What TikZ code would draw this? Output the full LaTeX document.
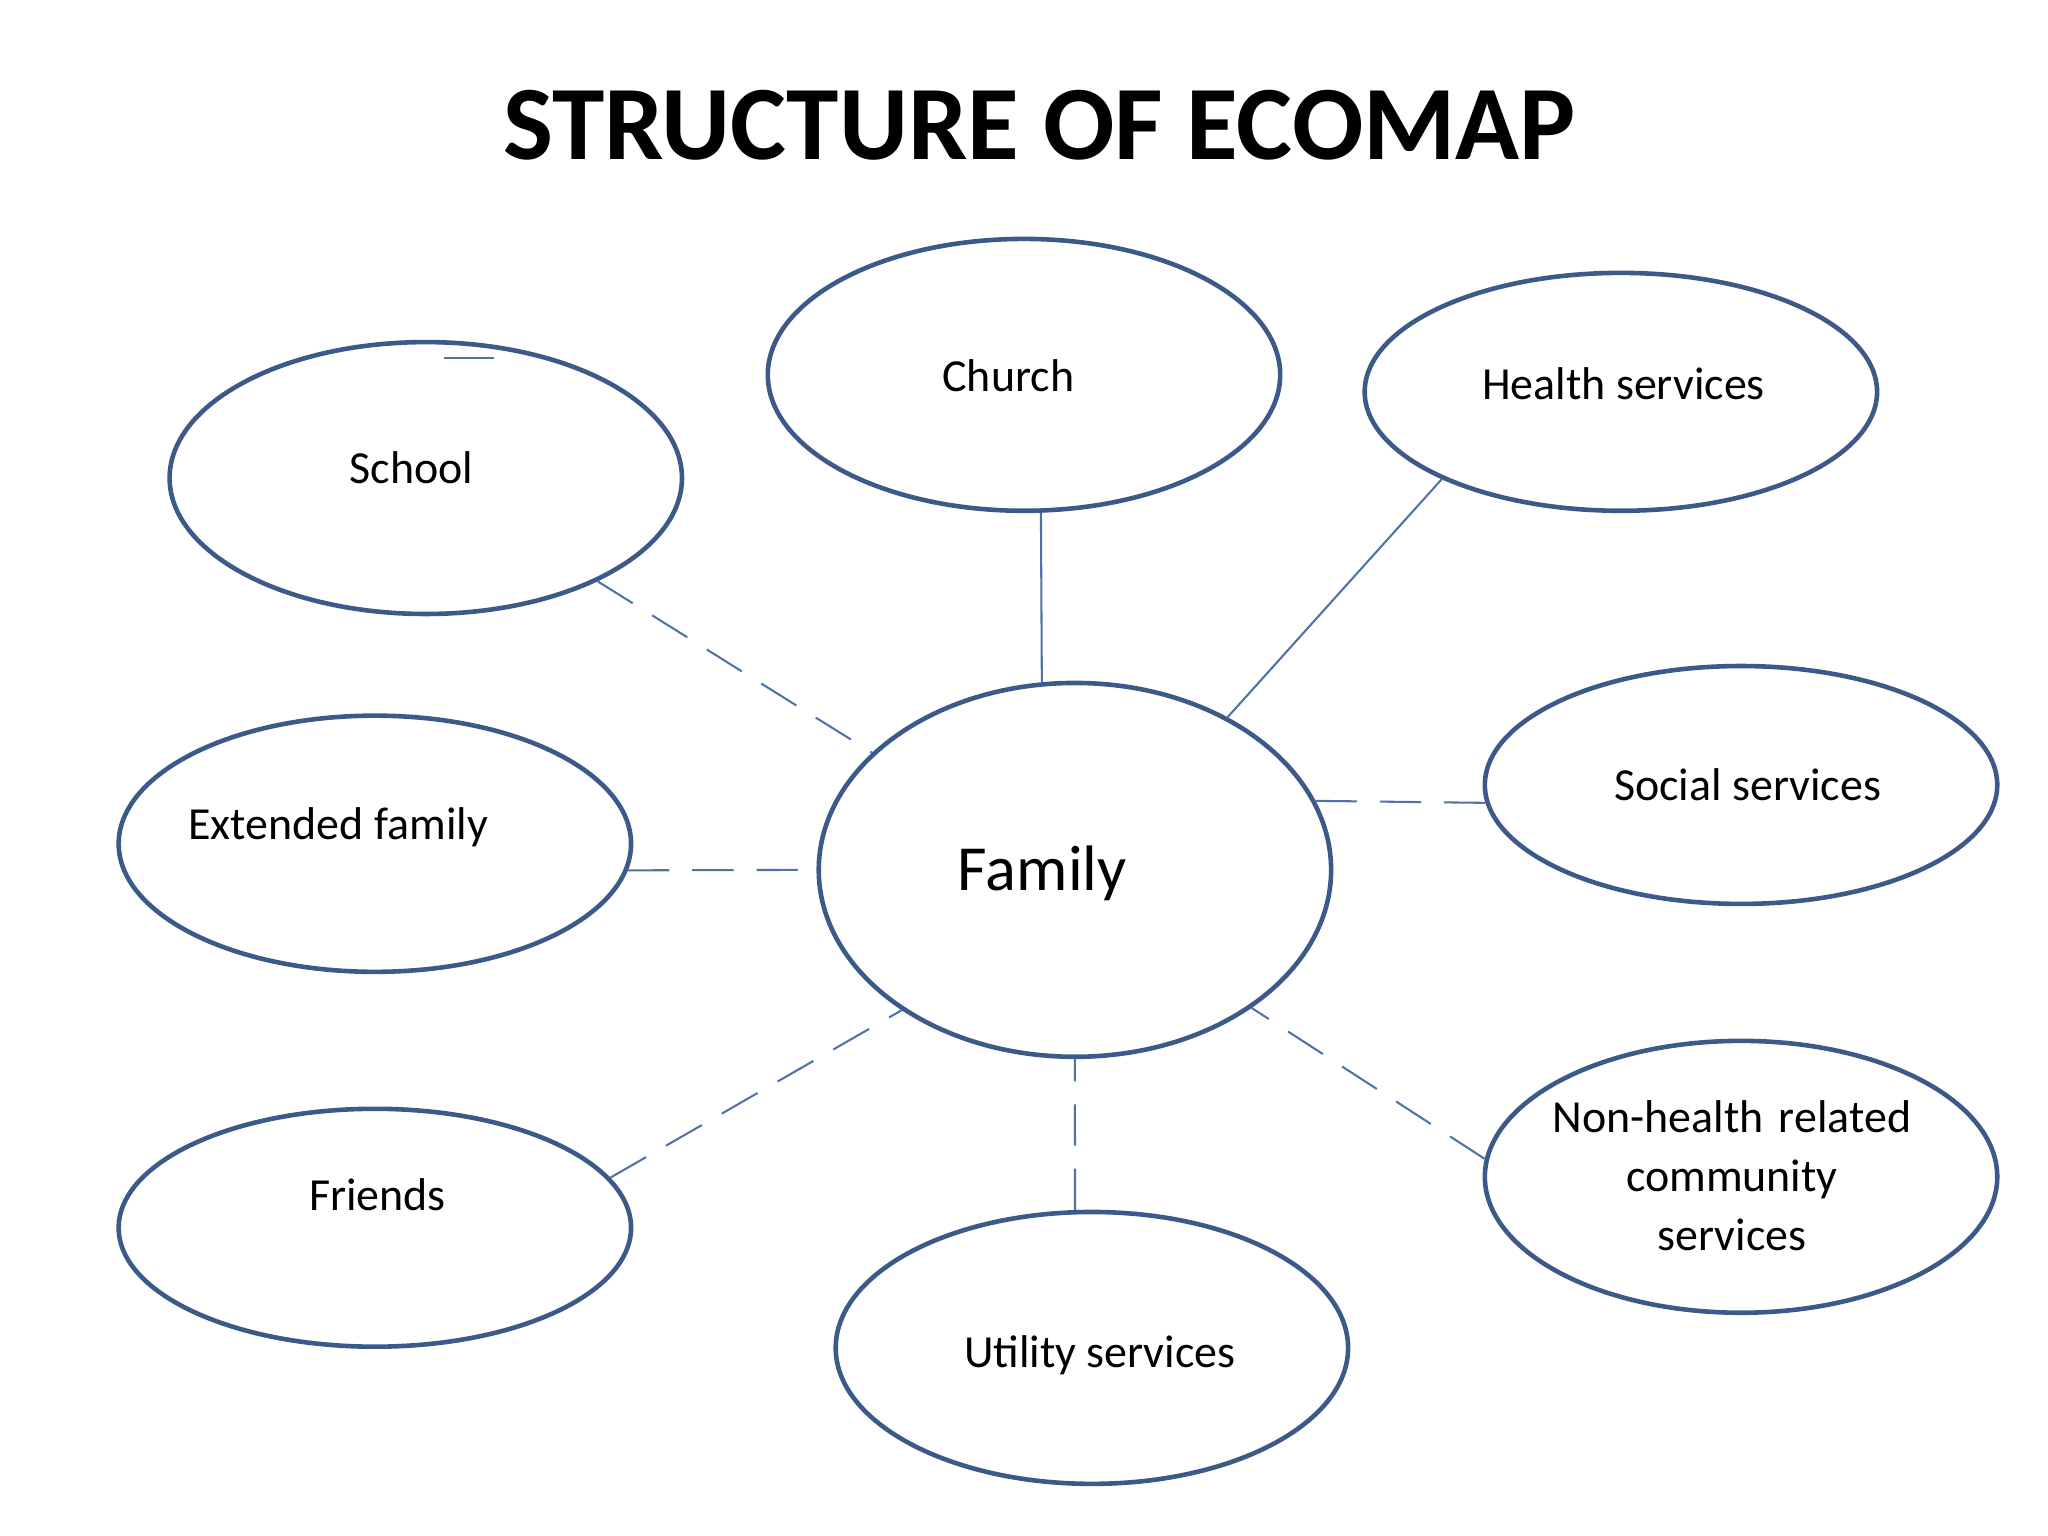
\documentclass[tikz,border=0pt]{standalone}
\usepackage{fontspec}
\setmainfont{Carlito}
\usetikzlibrary{shapes.geometric}
\definecolor{elc}{HTML}{3B5A8A}
\definecolor{lnc}{HTML}{4F72A8}
\begin{document}
\begin{tikzpicture}[x=0.01cm,y=-0.01cm,
  ell/.style n args={2}{ellipse,draw=elc,line width=1pt,inner sep=0pt,minimum width=#1*0.02cm,minimum height=#2*0.02cm},
  lbl/.style={font=\fontsize{10}{12}\selectfont,align=center},
  con/.style={draw=lnc,line width=0.45pt},
  dsh/.style={con,dash pattern=on 9pt off 5pt}]
\useasboundingbox (0,0) rectangle (1568,1176);
\node[font=\fontsize{23}{26}\selectfont\bfseries] (title) at (796,96) {STRUCTURE OF ECOMAP};
\node[ell={196}{104}] (school) at (326,366) {};
\node[ell={196}{104}] (church) at (784,287) {};
\node[ell={196}{91}] (health) at (1241,300) {};
\node[ell={196}{98}] (ext) at (287,646) {};
\node[ell={196}{143}] (fam) at (823,666) {};
\node[ell={196}{91}] (social) at (1333,601) {};
\node[ell={196}{91}] (friends) at (287,940) {};
\node[ell={196}{104}] (util) at (836,1032) {};
\node[ell={196}{104}] (nonh) at (1333,901) {};
\node[lbl] (tschool) at (315,358) {School};
\node[lbl] (tchurch) at (772,288) {Church};
\node[lbl] (thealth) at (1243,294) {Health services};
\node[lbl] (text) at (259,633) {Extended family};
\node[font=\fontsize{14}{16}\selectfont] (tfam) at (798,669) {Family};
\node[lbl] (tsocial) at (1338,601) {Social services};
\node[lbl] (tfriends) at (289,915) {Friends};
\node[lbl] (tutil) at (842,1038) {Utility services};
\node[lbl,text width=4.5cm,font=\fontsize{10}{12.8}\selectfont] (tnonh) at (1326,900) {Non-health related\\community\\services};
\coordinate (s1) at (340,274); \coordinate (s2) at (378,274);
\draw[con] (s1) -- (s2);
\draw[dsh] (school.-31) -- (fam.150);
\draw[con] (church.-83) -- (fam.100);
\draw[con] (health.-154) -- (fam.45);
\draw[dsh] (social.-176) -- (fam.16);
\draw[dsh] (ext.-6) -- (fam.180);
\draw[dsh] (friends.12) -- (fam.-141);
\draw[dsh] (util.97) -- (fam.-90);
\draw[dsh] (nonh.176) -- (fam.-38);
\end{tikzpicture}
\end{document}
